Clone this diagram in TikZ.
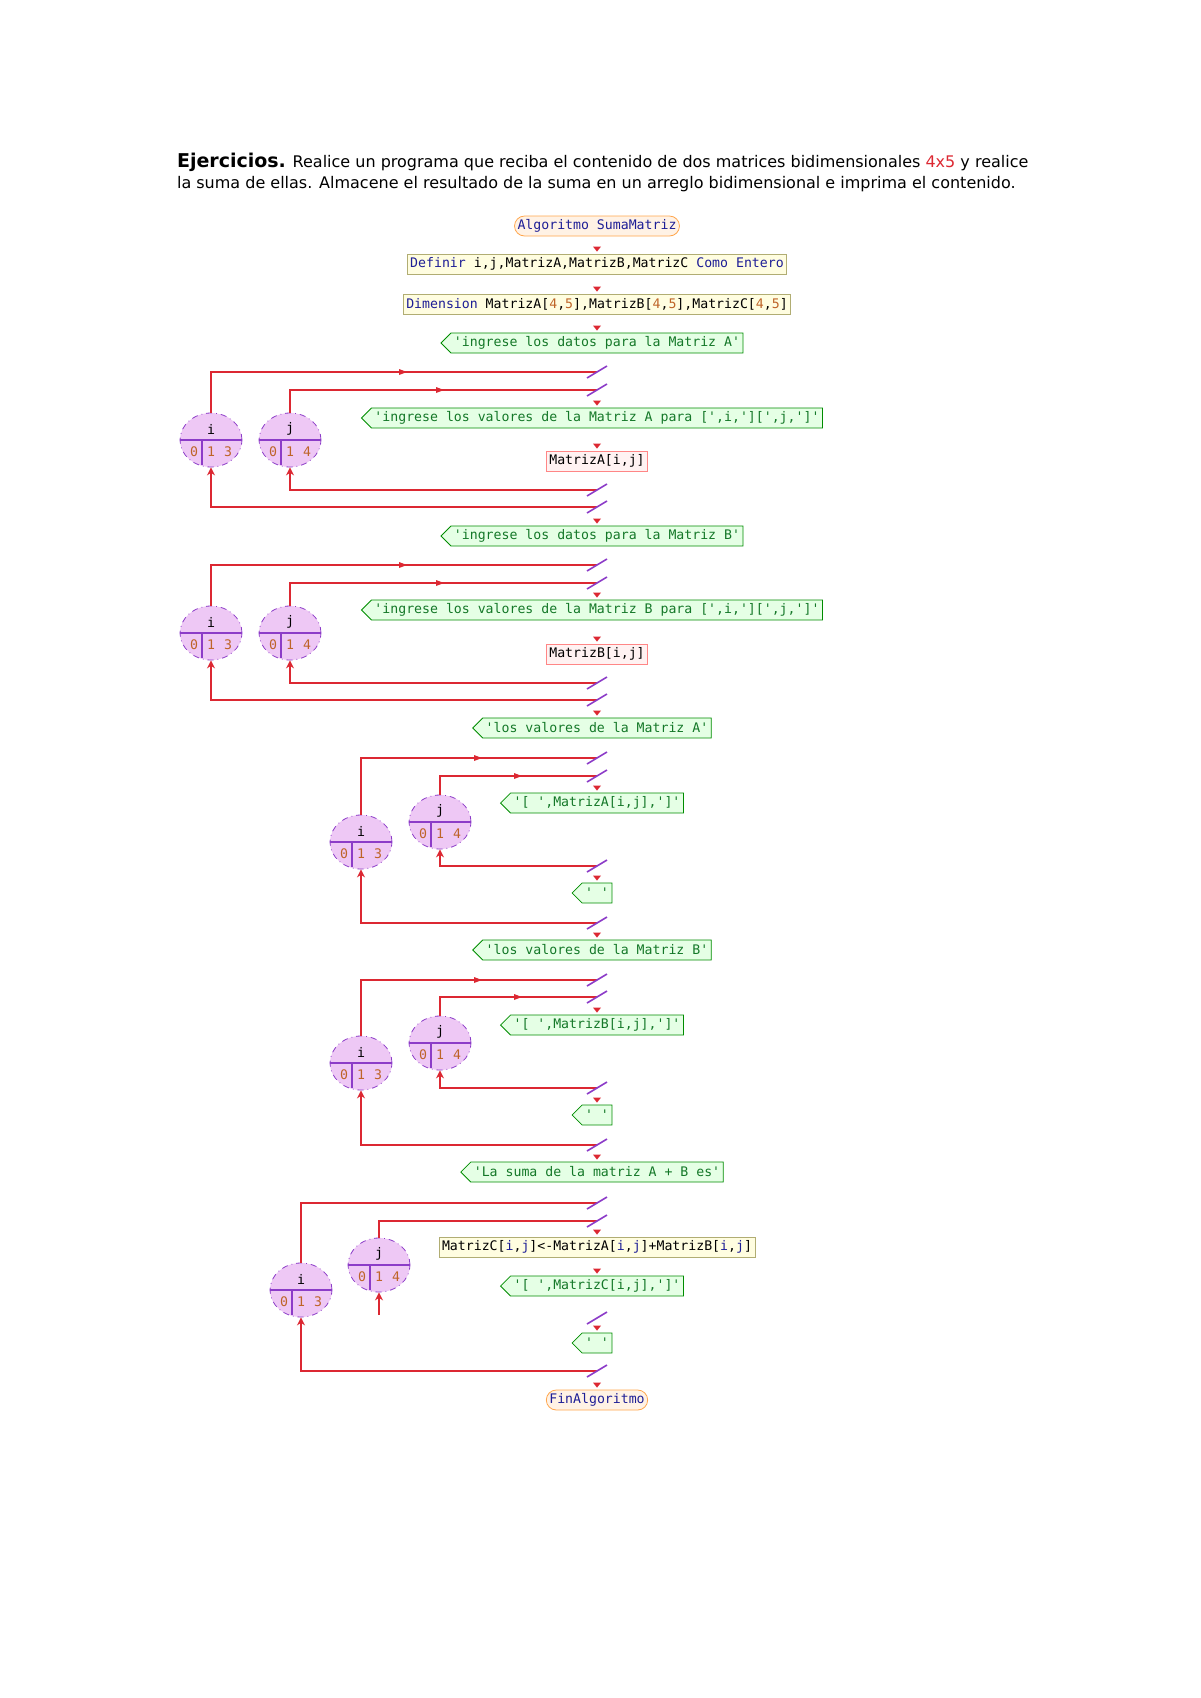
\documentclass[tikz,border=0pt]{standalone}
\usepackage{fontspec}
\setmainfont{DejaVu Sans}
\newfontfamily\mono{DejaVu Sans Mono}
\usetikzlibrary{shapes.symbols,shapes.geometric,calc,arrows.meta}
\definecolor{fr}{RGB}{220,40,50}
\definecolor{kw}{RGB}{30,30,150}
\definecolor{num}{RGB}{190,100,40}
\definecolor{str}{RGB}{20,120,40}
\definecolor{vio}{RGB}{140,60,200}
\definecolor{lfill}{RGB}{238,200,245}
\begin{document}
\begin{tikzpicture}[x=0.5pt,y=-0.5pt,
  every node/.style={font=\mono\fontsize{6.6}{7}\selectfont},
  proc/.style={draw=yellow!50!black!70, fill=yellow!12, inner sep=1.5pt, minimum height=10pt},
  outp/.style={signal, signal to=west, signal from=nowhere, draw=green!55!black, fill=green!10, inner sep=1.5pt, minimum height=10pt, text=str},
  term/.style={rounded corners=5pt, draw=orange!70, fill=orange!10, inner sep=1.5pt, minimum height=10pt, text=kw},
  inp/.style={draw=pink!70!red, fill=pink!20, inner sep=1.5pt, minimum height=10pt},
  loopc/.style={ellipse, draw=vio, dash dot, fill=lfill, minimum width=31pt, minimum height=27pt, inner sep=0pt},
  flow/.style={draw=fr, thick},
  up/.style={flow,-{Stealth[length=4pt,width=4pt]}},
]
\useasboundingbox (0,0) rectangle (1200,1698);
\newcommand\lpn[7]{%
  \node[loopc] (#1) at (#2,#3) {};
  \draw[vio,thick] (#1.west) -- (#1.east);
  \draw[vio,thick] ($(#1.center)+(-9,0)$) -- ($(#1.center)+(-9,25)$);
  \node at ($(#1.center)+(0,-11)$) {#4};
  \node[text=num] at ($(#1.center)+(-17,12)$) {#5};
  \node[text=num] at ($(#1.center)+(0,12)$) {#6};
  \node[text=num] at ($(#1.center)+(17,12)$) {#7};}
\newcommand\slmark[1]{\draw[vio,thick] ($(#1)+(-10,6)$) -- ($(#1)+(10,-6)$);}
\newcommand\armark[1]{\fill[fr] ($(#1)+(-4,-3)$) -- ($(#1)+(4,0)$) -- ($(#1)+(-4,3)$) -- cycle;}
% title
\node[anchor=west,font=\fontsize{8}{9}\selectfont] (t1) at (170,162) {\textbf{\fontsize{9.5}{9}\selectfont Ejercicios.} Realice un programa que reciba el contenido de dos matrices bidimensionales \textcolor{fr}{4x5} y realice};
\node[anchor=west,font=\fontsize{8}{9}\selectfont] (t2) at (170,184) {la suma de ellas. Almacene el resultado de la suma en un arreglo bidimensional e imprima el contenido.};
% main boxes
\node[term] (alg) at (597,226) {Algoritmo SumaMatriz};
\node[proc] (def) at (597,264) {\textcolor{kw}{Definir} i,j,MatrizA,MatrizB,MatrizC \textcolor{kw}{Como Entero}};
\node[proc] (dim) at (597,304) {\textcolor{kw}{Dimension} MatrizA[\textcolor{num}{4},\textcolor{num}{5}],MatrizB[\textcolor{num}{4},\textcolor{num}{5}],MatrizC[\textcolor{num}{4},\textcolor{num}{5}]};
\node[outp] (o1) at (597,343) {'ingrese los datos para la Matriz A'};
% section A input
\lpn{ia}{211}{440}{i}{0}{1}{3}
\lpn{ja}{290}{440}{j}{0}{1}{4}
\coordinate (iat) at (597,372); \coordinate (jat) at (597,390);
\coordinate (jab) at (597,490); \coordinate (iab) at (597,507);
\draw[flow] (ia.north) |- (iat); \draw[flow] (ja.north) |- (jat);
\draw[up] (jab) -| (ja.south); \draw[up] (iab) -| (ia.south);
\armark{403,372} \armark{440,390}
\node[outp] (o2) at (597,418) {'ingrese los valores de la Matriz A para [',i,'][',j,']'};
\node[inp] (ra) at (597,461) {MatrizA[i,j]};
\node[outp] (o3) at (597,536) {'ingrese los datos para la Matriz B'};
% section B input
\lpn{ib}{211}{633}{i}{0}{1}{3}
\lpn{jb}{290}{633}{j}{0}{1}{4}
\coordinate (ibt) at (597,565); \coordinate (jbt) at (597,583);
\coordinate (jbb) at (597,683); \coordinate (ibb) at (597,700);
\draw[flow] (ib.north) |- (ibt); \draw[flow] (jb.north) |- (jbt);
\draw[up] (jbb) -| (jb.south); \draw[up] (ibb) -| (ib.south);
\armark{403,565} \armark{440,583}
\node[outp] (o4) at (597,610) {'ingrese los valores de la Matriz B para [',i,'][',j,']'};
\node[inp] (rb) at (597,654) {MatrizB[i,j]};
\node[outp] (o5) at (597,728) {'los valores de la Matriz A'};
% section A print
\lpn{ic}{361}{842}{i}{0}{1}{3}
\lpn{jc}{440}{822}{j}{0}{1}{4}
\coordinate (ict) at (597,758); \coordinate (jct) at (597,776);
\coordinate (jcb) at (597,866); \coordinate (icb) at (597,923);
\draw[flow] (ic.north) |- (ict); \draw[flow] (jc.north) |- (jct);
\draw[up] (jcb) -| (jc.south); \draw[up] (icb) -| (ic.south);
\armark{478,758} \armark{518,776}
\node[outp] (o6) at (597,803) {'[ ',MatrizA[i,j],']'};
\node[outp] (o7) at (597,893) {' '};
\node[outp] (o8) at (597,950) {'los valores de la Matriz B'};
% section B print
\lpn{id}{361}{1063}{i}{0}{1}{3}
\lpn{jd}{440}{1043}{j}{0}{1}{4}
\coordinate (idt) at (597,980); \coordinate (jdt) at (597,997);
\coordinate (jdb) at (597,1088); \coordinate (idb) at (597,1145);
\draw[flow] (id.north) |- (idt); \draw[flow] (jd.north) |- (jdt);
\draw[up] (jdb) -| (jd.south); \draw[up] (idb) -| (id.south);
\armark{478,980} \armark{518,997}
\node[outp] (o9) at (597,1025) {'[ ',MatrizB[i,j],']'};
\node[outp] (o10) at (597,1115) {' '};
\node[outp] (o11) at (597,1172) {'La suma de la matriz A + B es'};
% section C
\lpn{ie}{301}{1290}{i}{0}{1}{3}
\lpn{je}{379}{1265}{j}{0}{1}{4}
\coordinate (iet) at (597,1203); \coordinate (jet) at (597,1221);
\coordinate (jeb) at (379,1315); \coordinate (jes) at (597,1318); \coordinate (ieb) at (597,1371);
\draw[flow] (ie.north) |- (iet); \draw[flow] (je.north) |- (jet);
\draw[up] (jeb) -- (je.south); \draw[up] (ieb) -| (ie.south);
\node[proc] (asg) at (597,1247) {MatrizC[\textcolor{kw}{i},\textcolor{kw}{j}]<-MatrizA[\textcolor{kw}{i},\textcolor{kw}{j}]+MatrizB[\textcolor{kw}{i},\textcolor{kw}{j}]};
\node[outp] (o12) at (597,1286) {'[ ',MatrizC[i,j],']'};
\node[outp] (o13) at (597,1343) {' '};
\node[term] (fin) at (597,1400) {FinAlgoritmo};
% slashes at joins
\foreach \c in {iat,jat,jab,iab,ibt,jbt,jbb,ibb,ict,jct,jcb,icb,idt,jdt,jdb,idb,iet,jet,jes,ieb} {\slmark{\c}}
% small red markers above boxes
\foreach \n in {def,dim,o1,o2,ra,o3,o4,rb,o5,o6,o7,o8,o9,o10,o11,asg,o12,o13,fin}
  {\fill[fr] ($(\n.north)+(-4,-7)$) -- ($(\n.north)+(4,-7)$) -- ($(\n.north)+(0,-2)$) -- cycle;}
\end{tikzpicture}
\end{document}
